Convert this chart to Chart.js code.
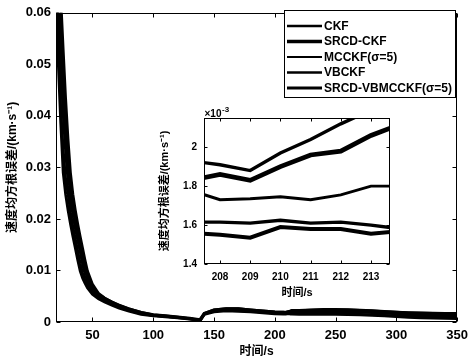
<!DOCTYPE html>
<html><head><meta charset="utf-8">
<script src="https://cdn.jsdelivr.net/npm/chart.js@4/dist/chart.umd.min.js"></script>
<style>
html,body{margin:0;padding:0;background:#fff;}
#wrap{position:relative;width:474px;height:364px;overflow:hidden;}
#main{position:absolute;left:0;top:0;}
#inset{position:absolute;left:150px;top:100px;pointer-events:none;}
</style></head><body>
<div id="wrap"><canvas id="main" width="474" height="364"></canvas><canvas id="inset" width="250" height="205"></canvas></div>
<script>
// ---- data ----
const times = [20,22,24,26,28,30,32,34,36,38,40,42,44,46,50,55,60,66,72,80,90,100,110,120,130,137,139,142,150,160,170,180,190,200,207,208,209,210,211,212,213,214,220,230,240,250,260,270,280,290,300,310,320,330,340,350];
const ckf = [.085,.073,.063,.053,.0435,.0355,.029,.0248,.0217,.019,.0166,.0143,.012,.0099,.0074,.0056,.0047,.0039,.0033,.0026,.0019,.0014,.0012,.00095,.0007,.00045,.0006,.0017,.0024,.0026,.0026,.0024,.0022,.0020,.00193,.00191,.00188,.00197,.00204,.00212,.00219,.00227,.0023,.0024,.00245,.00245,.00242,.00235,.00225,.0021,.00195,.00185,.00178,.00173,.0017,.00168];
const srcdCkf = [.076,.0655,.0555,.046,.0375,.0305,.0255,.0225,.0197,.0172,.0149,.0126,.0103,.0087,.0068,.0053,.0045,.0038,.0031,.0025,.0018,.00135,.00115,.0009,.00068,.00042,.00055,.0016,.0023,.0025,.0025,.0023,.0021,.0019,.00183,.00186,.00183,.0019,.00196,.00198,.00206,.00212,.00215,.00222,.00228,.0023,.00226,.0022,.0021,.00196,.00182,.0017,.00163,.00158,.00155,.00153];
const mcckf = [.068,.058,.048,.039,.032,.0265,.0232,.0203,.0178,.0155,.0132,.0108,.009,.0078,.0061,.005,.0043,.0036,.003,.0023,.0017,.0013,.0011,.00088,.00065,.0004,.0005,.0015,.0022,.0024,.0024,.0022,.002,.0018,.00178,.00173,.001735,.001745,.00173,.001755,.0018,.0018,.00183,.0019,.00195,.00195,.00192,.00185,.00178,.00165,.00152,.0014,.00132,.00126,.00122,.0012];
const vbckf = [.066,.054,.0415,.0335,.0278,.0245,.0212,.0185,.0161,.0138,.0114,.0095,.0081,.0072,.0057,.0047,.0041,.0034,.0028,.0022,.0016,.00125,.00105,.00085,.00062,.00038,.0005,.0016,.0021,.0023,.0022,.0021,.0019,.0017,.001615,.001615,.00161,.001625,.00161,.001615,.0016,.00158,.00158,.0016,.0016,.00158,.00155,.0015,.00143,.00132,.0012,.0011,.00102,.00096,.00092,.0009];
const srcdVbmcckf = [.063,.05,.0385,.029,.0248,.0217,.019,.0166,.0143,.012,.0099,.0085,.0075,.0066,.0054,.0045,.0039,.0033,.0027,.0021,.0015,.0012,.001,.0008,.0006,.00035,.00045,.0015,.002,.0022,.0021,.002,.0018,.0016,.00156,.00155,.001535,.00159,.00158,.00158,.001555,.00157,.00152,.0015,.0015,.00148,.00145,.0014,.00132,.0012,.00105,.00092,.00083,.00077,.00073,.0007];
const seriesLabels = ['CKF','SRCD-CKF','MCCKF(σ=5)','VBCKF','SRCD-VBMCCKF(σ=5)'];
const xTicksMain = [50,100,150,200,250,300,350];
const yTicksMain = [0,0.01,0.02,0.03,0.04,0.05,0.06];
const xTicksInset = [208,209,210,211,212,213];
const yTicksInset = [0.0014,0.0016,0.0018,0.002];

// ---- styling ----
const allSeries = [ckf, srcdCkf, mcckf, vbckf, srcdVbmcckf];
const lineWidths = [2.5, 3.5, 2.2, 2.5, 3];
function makeDatasets(scale){
  return seriesLabels.map((lab,i)=>({
    label: lab,
    data: times.map((t,j)=>({x:t, y:allSeries[i][j]})),
    borderColor:'#000', borderWidth: lineWidths[i]*scale,
    pointRadius:0, tension:0, fill:false
  }));
}
const tickFont = {family:'"Liberation Sans", Arial, sans-serif', weight:'bold'};
const cjk = '"Liberation Sans", "Noto Sans CJK SC", sans-serif';

const frame = {
  id:'frame',
  afterDatasetsDraw(chart, args, o){
    const {ctx, chartArea:a, scales:{x,y}} = chart;
    ctx.save();
    ctx.strokeStyle='#000'; ctx.lineWidth=1;
    const L=Math.round(a.left)+0.5, R=Math.round(a.right)-0.5, T=Math.round(a.top)+0.5, B=Math.round(a.bottom)-0.5;
    ctx.strokeRect(L,T,R-L,B-T);
    ctx.beginPath();
    x.ticks.forEach(t=>{const p=Math.round(x.getPixelForValue(t.value))+0.5;
      ctx.moveTo(p,B); ctx.lineTo(p,B-o.len); ctx.moveTo(p,T); ctx.lineTo(p,T+o.len);});
    y.ticks.forEach(t=>{const p=Math.round(y.getPixelForValue(t.value))+0.5;
      ctx.moveTo(L,p); ctx.lineTo(L+o.len,p); ctx.moveTo(R,p); ctx.lineTo(R-o.len,p);});
    ctx.stroke();
    if (o.exp){
      ctx.fillStyle='#000'; ctx.textBaseline='alphabetic';
      ctx.font='bold 10px "Liberation Sans", Arial';
      ctx.fillText('×10', L, T-2);
      const w = ctx.measureText('×10').width;
      ctx.font='bold 8px "Liberation Sans", Arial';
      ctx.fillText('-3', L+w+0.5, T-7);
    }
    ctx.restore();
  }
};

const boxLegend = {
  id:'boxLegend',
  afterDraw(chart, args, o){
    if(!o.show) return;
    const ctx = chart.ctx; ctx.save();
    ctx.fillStyle='#fff'; ctx.fillRect(o.x,o.y,o.w,o.h);
    ctx.strokeStyle='#000'; ctx.lineWidth=1; ctx.strokeRect(o.x+.5,o.y+.5,o.w,o.h);
    chart.data.datasets.forEach((ds,i)=>{
      const yy = o.y + o.first + i*o.step;
      ctx.beginPath(); ctx.moveTo(o.x+o.lx0, yy); ctx.lineTo(o.x+o.lx1, yy);
      ctx.lineWidth = ds.borderWidth; ctx.strokeStyle='#000'; ctx.stroke();
      ctx.fillStyle='#000'; ctx.font='bold 12px "Liberation Sans", Arial'; ctx.textBaseline='middle';
      ctx.fillText(ds.label, o.x+o.tx, yy+0.5);
    });
    ctx.restore();
  }
};

new Chart(document.getElementById('main'), {
  type:'line',
  data:{datasets: makeDatasets(1)},
  options:{
    responsive:false, animation:false, devicePixelRatio:1,
    layout:{padding:{left:0, top:9, right:16, bottom:0}},
    plugins:{legend:{display:false}, tooltip:{enabled:false},
      frame:{len:4},
      boxLegend:{show:true, x:284, y:10, w:171, h:87, first:16, step:15.5, lx0:3, lx1:38, tx:40}},
    scales:{
      x:{type:'linear', min:20, max:350,
        afterBuildTicks:s=>{s.ticks = xTicksMain.map(v=>({value:v}));},
        afterFit:s=>{s.height=42;},
        grid:{display:false, drawTicks:false}, border:{display:false},
        ticks:{color:'#000', font:{...tickFont, size:13}, padding:6, maxRotation:0, autoSkip:false},
        title:{display:true, text:'时间/s', color:'#000', font:{family:cjk, size:12, weight:'bold'}, padding:{top:0,bottom:5}}},
      y:{type:'linear', min:0, max:0.06,
        afterBuildTicks:s=>{s.ticks = yTicksMain.map(v=>({value:v}));},
        afterFit:s=>{s.width=56;},
        grid:{display:false, drawTicks:false}, border:{display:false},
        ticks:{color:'#000', font:{...tickFont, size:13}, padding:5, callback:v=>String(parseFloat(v.toFixed(4)))},
        title:{display:true, text:'速度均方根误差/(km·s⁻¹)', color:'#000', font:{family:cjk, size:12, weight:'bold'}, padding:{top:5,bottom:0}}}
    }
  },
  plugins:[frame, boxLegend]
});

new Chart(document.getElementById('inset'), {
  type:'line',
  data:{datasets: makeDatasets(1.35)},
  options:{
    responsive:false, animation:false, devicePixelRatio:1,
    layout:{padding:{left:0, top:18, right:10, bottom:0}},
    plugins:{legend:{display:false}, tooltip:{enabled:false}, frame:{len:3, exp:true}, boxLegend:{show:false}},
    scales:{
      x:{type:'linear', min:207.47, max:213.63,
        afterBuildTicks:s=>{s.ticks = xTicksInset.map(v=>({value:v}));},
        afterFit:s=>{s.height=41;},
        grid:{display:false, drawTicks:false}, border:{display:false},
        ticks:{color:'#000', font:{...tickFont, size:10}, padding:7, maxRotation:0, autoSkip:false},
        title:{display:true, text:'时间/s', color:'#000', font:{family:cjk, size:11, weight:'bold'}, padding:{top:0,bottom:5}}},
      y:{type:'linear', min:0.0014, max:0.00215,
        afterBuildTicks:s=>{s.ticks = yTicksInset.map(v=>({value:v}));},
        afterFit:s=>{s.width=54;},
        grid:{display:false, drawTicks:false}, border:{display:false},
        ticks:{color:'#000', font:{...tickFont, size:10}, padding:7, callback:v=>String(parseFloat((v*1000).toFixed(3)))},
        title:{display:true, text:'速度均方根误差/(km·s⁻¹)', color:'#000', font:{family:cjk, size:11, weight:'bold'}, padding:{top:8,bottom:0}}}
    }
  },
  plugins:[frame, boxLegend]
});
</script>
</body></html>
